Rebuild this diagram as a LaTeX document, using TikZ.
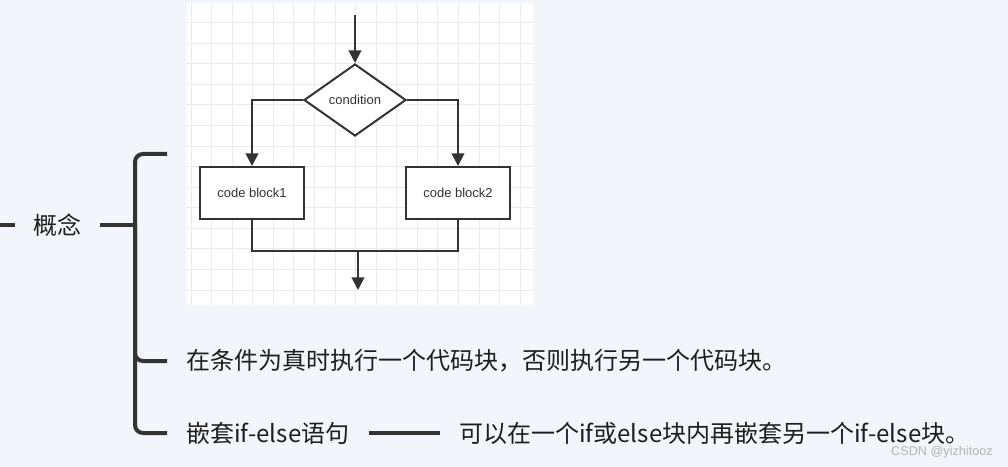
\documentclass[tikz,border=0pt]{standalone}
\usepackage{fontspec}
\setmainfont{Liberation Sans}
\newfontfamily\cjk{Noto Sans CJK SC}
\usetikzlibrary{shapes.geometric, arrows.meta}
\definecolor{bgcol}{HTML}{F2F5F9}
\definecolor{gridcol}{HTML}{EBEBEB}
\definecolor{linecol}{HTML}{333333}
\definecolor{textcol}{HTML}{1E1E1E}
\definecolor{markcol}{HTML}{B4B4B4}
\begin{document}
\begin{tikzpicture}[x=0.75pt, y=-0.75pt,
    flowline/.style={line width=1.5pt, linecol},
    flowarrow/.style={flowline, -{Triangle[width=9.5pt, length=9.5pt]}},
    codebox/.style={draw=linecol, line width=1.5pt, fill=white, minimum width=78pt, minimum height=39pt, inner sep=0pt, text=linecol, font=\fontsize{9.75pt}{12pt}\selectfont},
    decision/.style={diamond, draw=linecol, line width=1.5pt, fill=white, aspect=1.42, minimum width=76.5pt, minimum height=54pt, inner sep=0pt, text=linecol, font=\fontsize{9.75pt}{12pt}\selectfont},
    panel/.style={fill=white, minimum width=259.5pt, minimum height=226.5pt, inner sep=0pt, outer xsep=15pt},
    branch/.style={line width=3pt, linecol},
    idea/.style={text=textcol, inner xsep=14.25pt, inner ysep=0pt, font=\cjk\fontsize{18pt}{22pt}\selectfont}]
    \useasboundingbox (0,0) rectangle (1008,467);
    \fill[bgcol] (0,0) rectangle (1008,467);

    % Flowchart panel with grid
    \node[panel] (panel) at (360,154) {};
    \foreach \gx in {0,...,16}
        \draw[gridcol, line width=0.75pt] ({191.1+20.57*\gx},3) -- ({191.1+20.57*\gx},305);
    \foreach \gy in {0,...,13}
        \draw[gridcol, line width=0.75pt] (187,{22.6+20.57*\gy}) -- (533,{22.6+20.57*\gy});

    % Flowchart
    \coordinate (entry) at (355,15);
    \node[decision] (cond) at (355,100) {condition};
    \node[codebox] (block1) at (252,193) {code block1};
    \node[codebox] (block2) at (458,193) {code block2};
    \coordinate (merge) at (358,251);
    \coordinate (exit) at (358,290);
    \draw[flowarrow] (entry) -- (cond);
    \draw[flowarrow] (cond.west) -| (block1);
    \draw[flowarrow] (cond.east) -| (block2);
    \draw[flowline] (block1.south) |- (merge) -| (block2.south);
    \draw[flowarrow] (merge) -- (exit);

    % Mind map branches
    \coordinate (root) at (0,225);
    \coordinate (spine) at (135,225);
    \node[idea, inner xsep=13.5pt] (concept) at (57.5,225) {概念};
    \node[idea, anchor=west] (idea1) at (167,361) {在条件为真时执行一个代码块，否则执行另一个代码块。};
    \node[idea, anchor=west] (idea2) at (167,433) {嵌套if-else语句};
    \node[idea, anchor=west] (detail) at (440,433) {可以在一个if或else块内再嵌套另一个if-else块。};
    \draw[branch] (root) -- (concept.west);
    \draw[branch] (concept.east) -- (spine);
    \draw[branch, rounded corners=6pt] (panel.west) -| (spine |- idea2.west) -- (idea2.west);
    \draw[branch, rounded corners=6pt] (spine) |- (idea1.west);
    \draw[branch] (idea2.east) -- (detail.west);

    % Watermark
    \node[text=markcol, inner sep=0pt, anchor=east, font=\fontsize{9.5pt}{11pt}\selectfont] (mark) at (993,452) {CSDN @yizhitooz};
\end{tikzpicture}
\end{document}
